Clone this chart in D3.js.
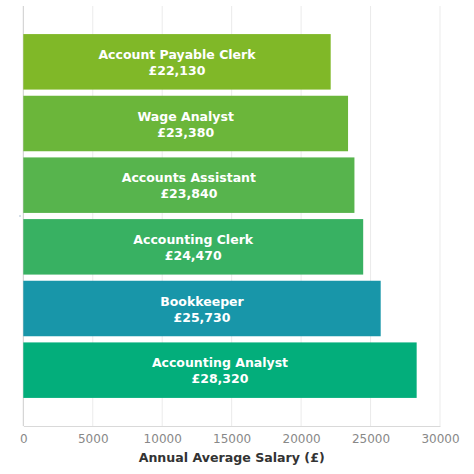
<!DOCTYPE html>
<html><head><meta charset="utf-8">
<script src="https://cdn.jsdelivr.net/npm/d3@7"></script>
<style>body{margin:0;background:#fff}svg{display:block}</style>
</head><body>
<svg id="c" width="474" height="474"></svg>
<script>
const categories = ["Account Payable Clerk","Wage Analyst","Accounts Assistant","Accounting Clerk","Bookkeeper","Accounting Analyst"];
const salaries = [22130,23380,23840,24470,25730,28320];
const colors = ["#80b828","#6bb63a","#57b44d","#38b162","#1896a9","#03ae7b"];
const xTicks = [0,5000,10000,15000,20000,25000,30000];
const xTitle = "Annual Average Salary (£)";

(function(){
const svg = d3.select("#c");
const mL = 23.3, mR = 440, mT = 6, mB = 426;
const x = d3.scaleLinear().domain([0,30000]).range([mL,mR]);
const y = d3.scaleBand().domain(categories).range([31,401]).paddingInner(0.1).paddingOuter(0.05);

// gridlines
svg.append("g").selectAll("line").data(xTicks.slice(1)).join("line")
  .attr("x1",d=>x(d)).attr("x2",d=>x(d)).attr("y1",mT).attr("y2",mB)
  .attr("stroke","#ebebeb").attr("stroke-width",1);

// y axis line
svg.append("line").attr("x1",mL).attr("x2",mL).attr("y1",mT).attr("y2",mB)
  .attr("stroke","#cccccc").attr("stroke-width",1);
svg.append("circle").attr("cx",20).attr("cy",(mT+mB)/2).attr("r",1).attr("fill","#c8d4e0");

// bars
svg.append("g").selectAll("rect").data(categories).join("rect")
  .attr("x",x(0)).attr("y",d=>y(d))
  .attr("width",(d,i)=>x(salaries[i])-x(0)).attr("height",y.bandwidth())
  .attr("fill",(d,i)=>colors[i]);

// labels
const lab = svg.append("g").attr("font-family","DejaVu Sans").attr("font-weight","bold")
  .attr("font-size",12.5).attr("fill","#fff").attr("text-anchor","middle");
categories.forEach((c,i)=>{
  const cx = (x(0)+x(salaries[i]))/2, cy = y(c)+y.bandwidth()/2;
  lab.append("text").attr("x",cx).attr("y",cy-3).text(c);
  lab.append("text").attr("x",cx).attr("y",cy+13).text("£"+d3.format(",")(salaries[i]));
});

// x axis
const ax = svg.append("g").attr("transform",`translate(0,${mB})`)
  .call(d3.axisBottom(x).tickValues(xTicks).tickFormat(d3.format("d")).tickSize(0).tickPadding(8));
ax.select(".domain").attr("stroke","#d9d9d9");
ax.selectAll("text").attr("font-family","DejaVu Sans").attr("font-size",12).attr("fill","#888");

svg.append("text").attr("x",(mL+mR)/2).attr("y",462).attr("text-anchor","middle")
  .attr("font-family","DejaVu Sans").attr("font-weight","bold").attr("font-size",12.6).attr("fill","#333")
  .text(xTitle);
})();
</script>
</body></html>
